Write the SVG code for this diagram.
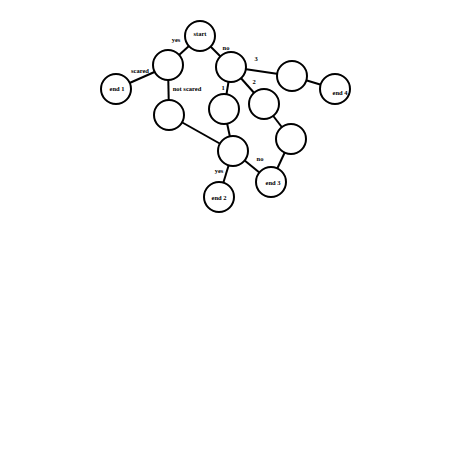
<svg xmlns="http://www.w3.org/2000/svg" width="474" height="454" viewBox="0 0 474 454">
<style>
.e{stroke:#000;stroke-width:2;fill:none}
.n circle{fill:#fff;stroke:#000;stroke-width:2}
text{font-family:"Liberation Serif",serif;font-weight:bold;font-size:6.5px;fill:#000;text-anchor:middle}
</style>
<rect width="474" height="454" fill="#fff"/>
<g id="edges">
<line class="e" x1="200" y1="36" x2="168" y2="65"/>
<line class="e" x1="200" y1="36" x2="231" y2="67"/>
<line class="e" x1="168" y1="66" x2="116" y2="89"/>
<line class="e" x1="168" y1="65" x2="169" y2="115"/>
<line class="e" x1="231" y1="67" x2="292" y2="76"/>
<line class="e" x1="292" y1="76" x2="335" y2="89"/>
<line class="e" x1="231" y1="67" x2="264" y2="104"/>
<line class="e" x1="231" y1="67" x2="224" y2="109"/>
<line class="e" x1="224" y1="109" x2="233" y2="151"/>
<line class="e" x1="169" y1="115" x2="233" y2="151"/>
<line class="e" x1="264" y1="104" x2="291" y2="139"/>
<line class="e" x1="291" y1="139" x2="271" y2="182"/>
<line class="e" x1="233" y1="151" x2="271" y2="182"/>
<line class="e" x1="233" y1="151" x2="219" y2="197"/>
<text x="176" y="42">yes</text>
<text x="226" y="50">no</text>
<text x="140" y="73">scared</text>
<text x="187" y="91">not scared</text>
<text x="256" y="61">3</text>
<text x="254" y="84">2</text>
<text x="223" y="90">1</text>
<text x="260" y="161">no</text>
<text x="219" y="173">yes</text>
</g>
<g id="start" class="n"><circle cx="200" cy="36" r="15"/><text x="200" y="36">start</text></g>
<g id="yes_node" class="n"><circle cx="168" cy="65" r="15"/></g>
<g id="no_node" class="n"><circle cx="231" cy="67" r="15"/></g>
<g id="end1" class="n"><circle cx="116" cy="89" r="15"/><text x="117" y="91">end 1</text></g>
<g id="not_scared_node" class="n"><circle cx="169" cy="115" r="15"/></g>
<g id="node3" class="n"><circle cx="292" cy="76" r="15"/></g>
<g id="end4" class="n"><circle cx="335" cy="89" r="15"/><text x="340" y="95">end 4</text></g>
<g id="node1" class="n"><circle cx="224" cy="109" r="15"/></g>
<g id="node2" class="n"><circle cx="264" cy="104" r="15"/></g>
<g id="node_right" class="n"><circle cx="291" cy="139" r="15"/></g>
<g id="central" class="n"><circle cx="233" cy="151" r="15"/></g>
<g id="end3" class="n"><circle cx="271" cy="182" r="15"/><text x="273" y="185">end 3</text></g>
<g id="end2" class="n"><circle cx="219" cy="197" r="15"/><text x="219" y="200">end 2</text></g>
</svg>
